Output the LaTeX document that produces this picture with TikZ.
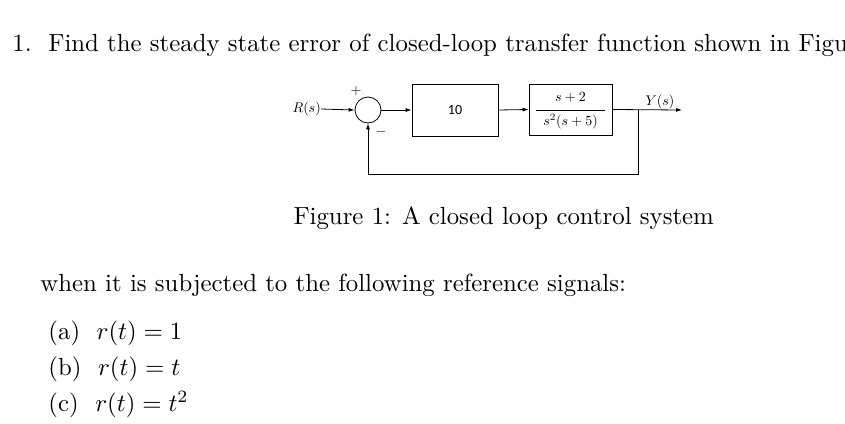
\documentclass[tikz,border=0pt]{standalone}
\usepackage{fontspec}
\newfontfamily\carlitofont{Carlito}
\usetikzlibrary{arrows.meta}
\begin{document}
\begin{tikzpicture}[x=1pt,y=-1pt,
  txt/.style={anchor=base west,inner sep=0pt,scale=2.48},
  blk/.style={draw,line width=0.8pt,inner sep=0pt},
  sig/.style={line width=0.8pt,-{Latex[length=6pt,width=4pt]}},
  lbl/.style={inner sep=0pt,scale=1.4}]
\useasboundingbox (0,0) rectangle (845,423);
\node[txt] (t1) at (12,51) {1.\ \ Find the steady state error of closed-loop transfer function shown in Figure 1,};
\node[blk,circle,minimum size=26pt] (sum) at (368,110) {};
\node[blk,minimum width=86pt,minimum height=52pt] (g1) at (455,110) {};
\node[lbl] (ten) at (455,110) {\carlitofont 10};
\node[blk,minimum width=83pt,minimum height=51pt] (g2) at (570.5,109.5) {};
\node[lbl] (num) at (570.5,98) {$s+2$};
\node[lbl] (den) at (570.5,122) {$s^2(s+5)$};
\draw[line width=0.6pt] (536,110) -- (605,110);
\node[lbl,anchor=east] (r) at (321,109) {$R(s)$};
\draw[sig] (r.east) -- (sum.west);
\draw[sig] (sum.east) -- (g1.west);
\draw[sig] (g1.east) -- (g2.west);
\coordinate (tap) at (638,110);
\coordinate (out) at (682,110);
\draw[sig] (g2.east) -- (out);
\node[lbl,anchor=base] (y) at (660,105) {$Y(s)$};
\draw[sig] (tap) -- (638,174) -| (sum.south);
\node[lbl] (plus) at (356,91) {$+$};
\node[lbl] (minus) at (381,132) {$-$};
\node[txt] (cap) at (293,224) {Figure 1: A closed loop control system};
\node[txt] (t2) at (40,291) {when it is subjected to the following reference signals:};
\node[txt] (a) at (48,339) {(a)\ \ $r(t)=1$};
\node[txt] (b) at (48,375) {(b)\ \ $r(t)=t$};
\node[txt] (c) at (48,411) {(c)\ \ $r(t)=t^2$};
\end{tikzpicture}
\end{document}
